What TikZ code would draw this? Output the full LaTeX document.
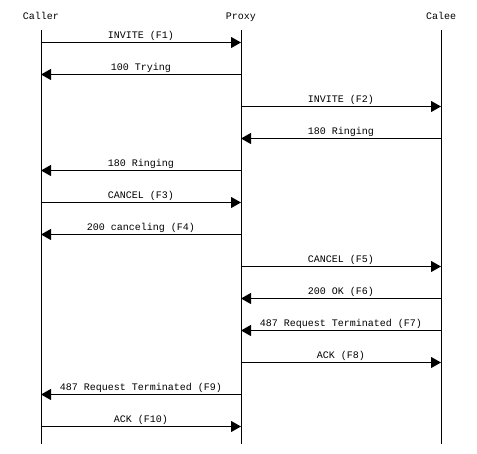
\documentclass[tikz,border=0pt]{standalone}
\usepackage{fontspec}
\setmonofont{Liberation Mono}
\usetikzlibrary{arrows.meta}
\begin{document}
\begin{tikzpicture}[x=1pt,y=-1pt,
  hdr/.style={font=\ttfamily\fontsize{10}{12}\selectfont, inner sep=0pt, anchor=base},
  lifeline/.style={line width=1pt, black},
  msg/.style={line width=1pt, -{Triangle[length=10pt,width=11pt]}},
  lbl/.style={font=\ttfamily\fontsize{10}{12}\selectfont, inner sep=0pt, anchor=base, yshift=3.5pt}
]
\useasboundingbox (0,0) rectangle (477,454);
\node[hdr] (hcaller) at (41,20) {Caller};
\node[hdr] (hproxy) at (241,20) {Proxy};
\node[hdr] (hcalee) at (441,20) {Calee};
\coordinate (a0) at (41,30);  \coordinate (aE) at (41,444);
\coordinate (b0) at (241,30); \coordinate (bE) at (241,444);
\coordinate (c0) at (441,30); \coordinate (cE) at (441,444);
\draw[lifeline] (a0) -- (aE);
\draw[lifeline] (b0) -- (bE);
\draw[lifeline] (c0) -- (cE);
% rows
\foreach \i/\y in {1/42.5,2/74.5,3/106.5,4/138.5,5/170.5,6/202.5,7/234.5,8/266.5,9/298.5,10/330.5,11/362.5,12/394.5,13/426.5}{
  \coordinate (a\i) at (41,\y);
  \coordinate (b\i) at (241,\y);
  \coordinate (c\i) at (441,\y);
}
\draw[msg] (a1) -- node[lbl] (m1) {INVITE (F1)} (b1);
\draw[msg] (b2) -- node[lbl] (m2) {100 Trying} (a2);
\draw[msg] (b3) -- node[lbl] (m3) {INVITE (F2)} (c3);
\draw[msg] (c4) -- node[lbl] (m4) {180 Ringing} (b4);
\draw[msg] (b5) -- node[lbl] (m5) {180 Ringing} (a5);
\draw[msg] (a6) -- node[lbl] (m6) {CANCEL (F3)} (b6);
\draw[msg] (b7) -- node[lbl] (m7) {200 canceling (F4)} (a7);
\draw[msg] (b8) -- node[lbl] (m8) {CANCEL (F5)} (c8);
\draw[msg] (c9) -- node[lbl] (m9) {200 OK (F6)} (b9);
\draw[msg] (c10) -- node[lbl] (m10) {487 Request Terminated (F7)} (b10);
\draw[msg] (b11) -- node[lbl] (m11) {ACK (F8)} (c11);
\draw[msg] (b12) -- node[lbl] (m12) {487 Request Terminated (F9)} (a12);
\draw[msg] (a13) -- node[lbl] (m13) {ACK (F10)} (b13);
\end{tikzpicture}
\end{document}
